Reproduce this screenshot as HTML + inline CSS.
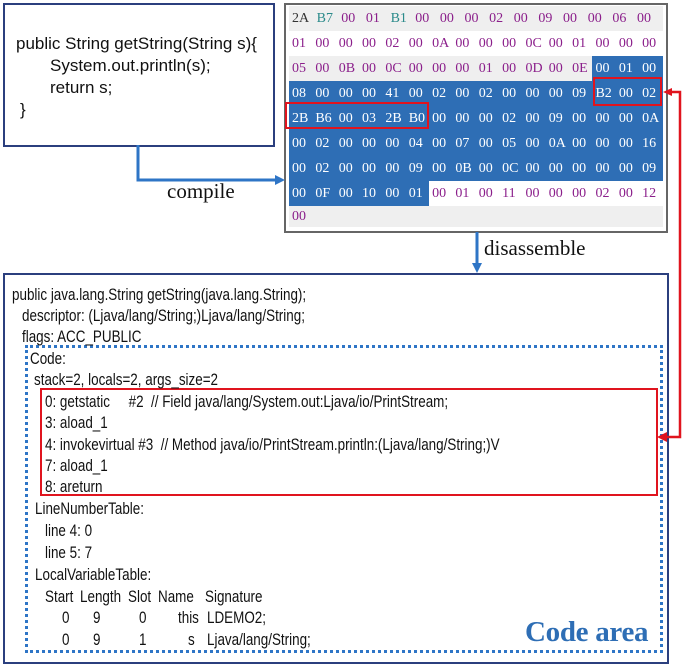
<!DOCTYPE html>
<html><head><meta charset="utf-8"><style>
html,body{margin:0;padding:0;background:#fff;width:685px;height:666px;overflow:hidden;position:relative;font-family:"Liberation Sans",sans-serif}
.a{position:absolute;white-space:pre;line-height:1}
.n{position:absolute;white-space:pre;line-height:1;font-size:17px;color:#111;transform:scaleX(.79);transform-origin:0 0}
.row{position:absolute;left:289px;width:374px;height:25px;font-family:"Liberation Serif",serif;font-size:14px;color:#8b1f8b}
.row span{display:inline-block;width:23.35px;line-height:25px;text-indent:3px}
.row.r0 span{width:24.65px}
.g{background:#efefef}
.b{background:#2e6eb5;color:#fff}
</style></head><body>
<!-- top-left source box -->
<div style="position:absolute;left:3px;top:3px;width:268px;height:140px;border:2px solid #2b3f7e"></div>
<div class="a" style="left:16px;top:35px;font-size:17px;color:#111">public String getString(String s){</div>
<div class="a" style="left:50px;top:57px;font-size:17px;color:#111">System.out.println(s);</div>
<div class="a" style="left:50px;top:79px;font-size:17px;color:#111">return s;</div>
<div class="a" style="left:20px;top:101px;font-size:17px;color:#111">}</div>

<!-- hex box -->
<div style="position:absolute;left:284px;top:3px;width:380px;height:226px;border:2px solid #666;background:#fff"></div>
<div class="row r0 g" style="top:6px"><span style="color:#333">2A</span><span style="color:#2a8a8a">B7</span><span>00</span><span>01</span><span style="color:#2a8a8a">B1</span><span>00</span><span>00</span><span>00</span><span>02</span><span>00</span><span>09</span><span>00</span><span>00</span><span>06</span><span>00</span></div>
<div class="row" style="top:31px"><span>01</span><span>00</span><span>00</span><span>00</span><span>02</span><span>00</span><span>0A</span><span>00</span><span>00</span><span>00</span><span>0C</span><span>00</span><span>01</span><span>00</span><span>00</span><span>00</span></div>
<div class="row g" style="top:56px"><span>05</span><span>00</span><span>0B</span><span>00</span><span>0C</span><span>00</span><span>00</span><span>00</span><span>01</span><span>00</span><span>0D</span><span>00</span><span>0E</span><span class="b">00</span><span class="b">01</span><span class="b">00</span></div>
<div class="row b" style="top:81px"><span>08</span><span>00</span><span>00</span><span>00</span><span>41</span><span>00</span><span>02</span><span>00</span><span>02</span><span>00</span><span>00</span><span>00</span><span>09</span><span>B2</span><span>00</span><span>02</span></div>
<div class="row b" style="top:106px"><span>2B</span><span>B6</span><span>00</span><span>03</span><span>2B</span><span>B0</span><span>00</span><span>00</span><span>00</span><span>02</span><span>00</span><span>09</span><span>00</span><span>00</span><span>00</span><span>0A</span></div>
<div class="row b" style="top:131px"><span>00</span><span>02</span><span>00</span><span>00</span><span>00</span><span>04</span><span>00</span><span>07</span><span>00</span><span>05</span><span>00</span><span>0A</span><span>00</span><span>00</span><span>00</span><span>16</span></div>
<div class="row b" style="top:156px"><span>00</span><span>02</span><span>00</span><span>00</span><span>00</span><span>09</span><span>00</span><span>0B</span><span>00</span><span>0C</span><span>00</span><span>00</span><span>00</span><span>00</span><span>00</span><span>09</span></div>
<div class="row" style="top:181px"><span class="b">00</span><span class="b">0F</span><span class="b">00</span><span class="b">10</span><span class="b">00</span><span class="b">01</span><span>00</span><span>01</span><span>00</span><span>11</span><span>00</span><span>00</span><span>00</span><span>02</span><span>00</span><span>12</span></div>
<div class="row g" style="top:206px;height:21px"><span style="line-height:21px">00</span></div>

<!-- bottom box -->
<div style="position:absolute;left:3px;top:273px;width:662px;height:387px;border:2px solid #2b3f7e"></div>
<div style="position:absolute;left:25px;top:345px;width:632px;height:302px;border:3px dotted #2e75c6"></div>
<div style="position:absolute;left:40px;top:388px;width:614px;height:104px;border:2px solid #e0141e"></div>

<div class="n" style="left:12px;top:286px">public java.lang.String getString(java.lang.String);</div>
<div class="n" style="left:22px;top:307px">descriptor: (Ljava/lang/String;)Ljava/lang/String;</div>
<div class="n" style="left:22px;top:328px">flags: ACC_PUBLIC</div>
<div class="n" style="left:30px;top:350px">Code:</div>
<div class="n" style="left:34px;top:371px">stack=2, locals=2, args_size=2</div>
<div class="n" style="left:45px;top:393px">0: getstatic     #2  // Field java/lang/System.out:Ljava/io/PrintStream;</div>
<div class="n" style="left:45px;top:414px">3: aload_1</div>
<div class="n" style="left:45px;top:436px">4: invokevirtual #3  // Method java/io/PrintStream.println:(Ljava/lang/String;)V</div>
<div class="n" style="left:45px;top:457px">7: aload_1</div>
<div class="n" style="left:45px;top:478px">8: areturn</div>
<div class="n" style="left:35px;top:500px">LineNumberTable:</div>
<div class="n" style="left:45px;top:522px">line 4: 0</div>
<div class="n" style="left:45px;top:544px">line 5: 7</div>
<div class="n" style="left:35px;top:566px">LocalVariableTable:</div>
<div class="n" style="left:45px;top:588px">Start</div>
<div class="n" style="left:80px;top:588px">Length</div>
<div class="n" style="left:128px;top:588px">Slot</div>
<div class="n" style="left:158px;top:588px">Name</div>
<div class="n" style="left:205px;top:588px">Signature</div>
<div class="n" style="left:62px;top:609px">0</div>
<div class="n" style="left:93px;top:609px">9</div>
<div class="n" style="left:139px;top:609px">0</div>
<div class="n" style="left:178px;top:609px">this</div>
<div class="n" style="left:207px;top:609px">LDEMO2;</div>
<div class="n" style="left:62px;top:631px">0</div>
<div class="n" style="left:93px;top:631px">9</div>
<div class="n" style="left:139px;top:631px">1</div>
<div class="n" style="left:188px;top:631px">s</div>
<div class="n" style="left:207px;top:631px">Ljava/lang/String;</div>
<div class="a" style="left:525px;top:618px;font-family:'Liberation Serif',serif;font-weight:bold;font-size:29px;color:#2e6eb5;letter-spacing:-0.3px">Code area</div>

<!-- connectors -->
<svg width="685" height="666" style="position:absolute;left:0;top:0">
<polyline points="138,145 138,180 276,180" fill="none" stroke="#2e75c6" stroke-width="3"/>
<polygon points="285,180 275,175 275,185" fill="#2e75c6"/>
<line x1="477" y1="232" x2="477" y2="264" stroke="#2e75c6" stroke-width="3"/>
<polygon points="477,273 472,263 482,263" fill="#2e75c6"/>
<rect x="594" y="78" width="67" height="27" fill="none" stroke="#e0141e" stroke-width="2"/>
<rect x="286" y="103" width="142" height="25" fill="none" stroke="#e0141e" stroke-width="2"/>
<polyline points="671,92 680,92 680,437 666,437" fill="none" stroke="#e0141e" stroke-width="2.5"/>
<polygon points="663,92 672,88 672,96" fill="#e0141e"/>
<polygon points="657,437 667,432 667,442" fill="#e0141e"/>
</svg>
<div class="a" style="left:167px;top:181px;font-family:'Liberation Serif',serif;font-size:21px;color:#111">compile</div>
<div class="a" style="left:484px;top:238px;font-family:'Liberation Serif',serif;font-size:21px;color:#111">disassemble</div>
</body></html>
